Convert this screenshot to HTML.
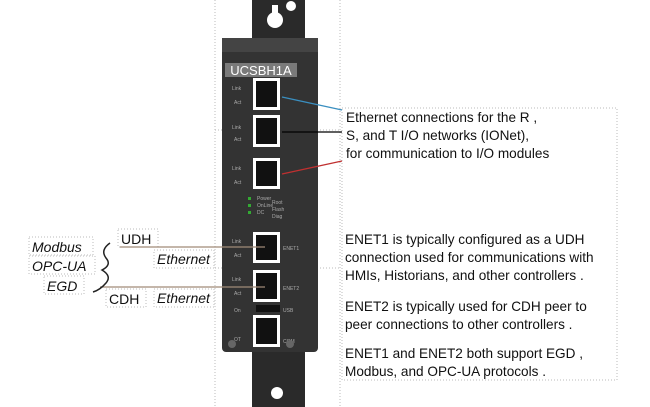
<!DOCTYPE html>
<html><head><style>
body{margin:0;background:#fff;width:650px;height:407px;overflow:hidden}
svg{display:block}
text{font-family:"Liberation Sans",sans-serif}
</style></head><body>
<svg width="650" height="407" viewBox="0 0 650 407">
<g stroke="#bbb" stroke-dasharray="1,2" fill="none" stroke-width="1">
<line x1="215" y1="0" x2="215" y2="407"/>
<line x1="340" y1="0" x2="340" y2="407"/>
<line x1="215" y1="130" x2="340" y2="130"/>
<line x1="215" y1="268" x2="340" y2="268"/>
<rect x="342" y="108" width="275" height="272"/>
<rect x="118" y="229" width="40" height="18"/>
<rect x="154" y="250" width="60" height="18"/>
<rect x="29" y="237" width="64" height="18"/>
<rect x="29" y="256" width="66" height="18"/>
<rect x="44" y="276" width="40" height="18"/>
<rect x="106" y="289" width="40" height="18"/>
<rect x="154" y="289" width="60" height="18"/>
</g>
<rect x="252" y="0" width="53" height="40" fill="#2a2a2a"/>
<rect x="252" y="350" width="53" height="57" fill="#2a2a2a"/>
<circle cx="275" cy="20" r="8" fill="#fff"/><rect x="272" y="5" width="6" height="10" fill="#fff"/>
<circle cx="291" cy="6" r="5" fill="#fff"/>
<circle cx="277" cy="393" r="6" fill="#fff"/>
<rect x="222" y="38" width="96" height="314" rx="4" fill="#333"/>
<rect x="222" y="38" width="96" height="14" fill="#444"/>
<rect x="225" y="63" width="72" height="14" fill="#7a7a7a"/>
<text x="261" y="75" font-size="13" fill="#fff" text-anchor="middle">UCSBH1A</text>
<g fill="#fff" stroke="none">
<rect x="253" y="78" width="27" height="32"/><rect x="253" y="115" width="27" height="32"/>
<rect x="253" y="158" width="27" height="31"/><rect x="253" y="232" width="27" height="31"/>
<rect x="253" y="270" width="27" height="32"/><rect x="253" y="315" width="27" height="32"/>
</g>
<g fill="#111">
<rect x="256" y="81" width="21" height="26"/><rect x="256" y="118" width="21" height="26"/>
<rect x="256" y="161" width="21" height="25"/><rect x="256" y="235" width="21" height="25"/>
<rect x="256" y="273" width="21" height="26"/><rect x="256" y="318" width="21" height="26"/>
<rect x="256" y="305" width="24" height="7"/>
</g>
<g font-size="5" fill="#aaa">
<text x="232" y="90">Link</text><text x="234" y="104">Act</text>
<text x="232" y="129">Link</text><text x="234" y="141">Act</text>
<text x="232" y="170">Link</text><text x="234" y="184">Act</text>
<text x="232" y="243">Link</text><text x="234" y="257">Act</text>
<text x="232" y="281">Link</text><text x="234" y="295">Act</text>
<text x="234" y="312">On</text><text x="234" y="341">OT</text>
<text x="283" y="250">ENET1</text><text x="283" y="290">ENET2</text>
<text x="283" y="312">USB</text><text x="283" y="343">COM</text>
<text x="257" y="200">Power</text><text x="257" y="207">OnLine</text><text x="257" y="214">DC</text>
<text x="272" y="204">Root</text><text x="272" y="211">Flash</text><text x="272" y="218">Diag</text>
</g>
<g fill="#3a3"><rect x="248" y="197" width="3" height="3"/><rect x="248" y="204" width="3" height="3"/><rect x="248" y="211" width="3" height="3"/></g>
<circle cx="232" cy="344" r="4" fill="#666"/><circle cx="290" cy="344" r="4" fill="#666"/>
<line x1="282" y1="97" x2="342" y2="110" stroke="#3a8fc0" stroke-width="1.3"/>
<line x1="282" y1="132" x2="342" y2="132" stroke="#000" stroke-width="1.3"/>
<line x1="282" y1="174" x2="342" y2="161" stroke="#c03030" stroke-width="1.3"/>
<line x1="120" y1="247" x2="265" y2="247" stroke="#a08a78" stroke-width="1.3"/>
<line x1="100" y1="287" x2="265" y2="287" stroke="#a08a78" stroke-width="1.3"/>
<path d="M110 243 Q100 250 106 258 Q112 265 102 270 Q112 276 106 283 Q100 290 93 292" stroke="#222" stroke-width="1.5" fill="none"/>
<g font-size="13.6" fill="#111">
<text x="346" y="122">Ethernet connections for the R ,</text>
<text x="346" y="140">S, and T I/O networks (IONet),</text>
<text x="346" y="158">for communication to I/O modules</text>
<text x="345" y="244">ENET1 is typically configured as a UDH</text>
<text x="345" y="262">connection used for communications with</text>
<text x="345" y="280">HMIs, Historians, and other controllers .</text>
<text x="345" y="311">ENET2 is typically used for CDH peer to</text>
<text x="345" y="329">peer connections to other controllers .</text>
<text x="345" y="358">ENET1 and ENET2 both support EGD ,</text>
<text x="345" y="376">Modbus, and OPC-UA protocols .</text>
<text x="121" y="244" font-size="14">UDH</text>
<text x="109" y="304" font-size="14">CDH</text>
</g>
<g font-size="14" font-style="italic" fill="#111">
<text x="157" y="264">Ethernet</text>
<text x="157" y="303">Ethernet</text>
<text x="32" y="252">Modbus</text>
<text x="32" y="271">OPC-UA</text>
<text x="47" y="291">EGD</text>
</g>
</svg>
</body></html>
